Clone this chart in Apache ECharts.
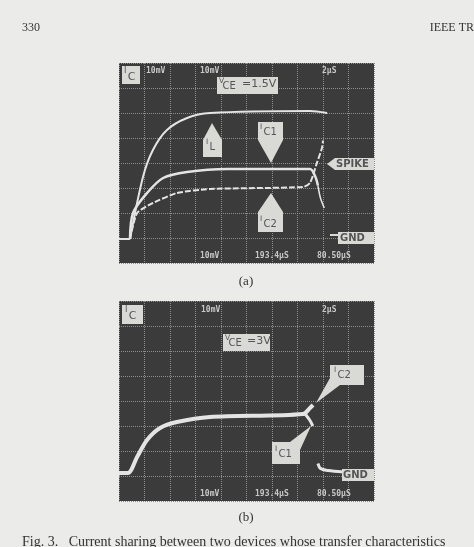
<!DOCTYPE html>
<html><head><meta charset="utf-8">
<script src="https://cdn.jsdelivr.net/npm/echarts@6/dist/echarts.min.js"></script>
<style>html,body{margin:0;padding:0;background:#ebebea;}#c{width:474px;height:547px;}</style>
</head><body><div id="c"></div>
<script>
// Data in screen divisions (x: 0-10, y: 0-8)
const aBaseX = [0, 0.43], aBaseY = [0.96, 0.96];
const aILx = [0.43, 0.94, 1.33, 1.88, 2.67, 3.57, 7.49, 8.16];
const aILy = [0.96, 3.44, 4.52, 5.32, 5.8, 6.0, 6.08, 6.0];
const aC1x = [0.43, 0.55, 1.1, 1.73, 2.67, 4.24, 7.49, 7.7, 7.8];
const aC1y = [0.96, 2.0, 2.8, 3.4, 3.64, 3.76, 3.76, 3.45, 3.1];
const aC2x = [0.43, 0.71, 1.33, 2.27, 3.57, 7.22, 7.49, 7.76, 7.96, 8.0];
const aC2y = [0.96, 2.0, 2.4, 2.8, 2.96, 3.04, 3.2, 4.0, 4.6, 4.9];
const aDx = [7.8, 7.9, 8.05], aDy = [3.1, 2.6, 2.2];
const bX = [0, 0.35, 0.71, 1.1, 1.61, 2.27, 3.57, 7.22, 7.49, 7.61];
const bY = [1.12, 1.12, 1.76, 2.44, 2.92, 3.16, 3.36, 3.48, 3.72, 3.84];
const bDx = [7.3, 7.49, 7.6], bDy = [3.48, 3.22, 3.0];
const bGx = [7.8, 7.9, 8.2, 8.8], bGy = [1.5, 1.3, 1.22, 1.16];
const zip = (xs, ys) => xs.map((x, i) => [x, ys[i]]);

const chart = echarts.init(document.getElementById('c'));
const ax = (gi) => ({gridIndex: gi, type: 'value', min: 0, max: 10, interval: 1,
  axisLine: {show: false}, axisTick: {show: false}, axisLabel: {show: false},
  splitLine: {show: true, lineStyle: {color: '#8d8d8d', type: 'dotted', width: 1}}});
const ay = (gi) => ({gridIndex: gi, type: 'value', min: 0, max: 8, interval: 1,
  axisLine: {show: false}, axisTick: {show: false}, axisLabel: {show: false},
  splitLine: {show: true, lineStyle: {color: '#8d8d8d', type: 'dotted', width: 1}}});
const ln = (gi, data, w, dash, sm) => ({type: 'line', xAxisIndex: gi, yAxisIndex: gi, data, smooth: sm === undefined ? 0.3 : sm,
  symbol: 'none', silent: true, lineStyle: {color: '#e4e4e4', width: w, type: dash || 'solid'}});

const lbl = '#d9d9d6', lt = '#555';
const box = (x, y, w, h) => ({type: 'rect', z: 100, shape: {x, y, width: w, height: h}, style: {fill: lbl}});
const poly = (pts) => ({type: 'polygon', z: 100, shape: {points: pts}, style: {fill: lbl}});
const sub = (x, y, a, b, fs) => ({type: 'group', z: 101, children: [
  {type: 'text', z: 101, x: x, y: y, style: {text: a, fontSize: fs * 0.75, fill: lt, fontFamily: 'DejaVu Sans'}},
  {type: 'text', z: 101, x: x + fs * 0.35, y: y + fs * 0.45, style: {text: b, fontSize: fs, fill: lt, fontFamily: 'DejaVu Sans'}}]});
const txt = (x, y, t, fs, col, ff, align) => ({type: 'text', z: 101, x, y, style: {text: t, fontSize: fs, fill: col,
  fontFamily: ff || 'DejaVu Sans Mono', fontWeight: 'bold', textAlign: align || 'left', textVerticalAlign: 'middle'}});
const scope = '#c8c8c8';
const serif = 'Liberation Serif';

chart.setOption({
  animation: false,
  grid: [
    {left: 119, top: 63, width: 255, height: 200, show: true, backgroundColor: '#3b3b3b', borderWidth: 0},
    {left: 119, top: 301, width: 255, height: 200, show: true, backgroundColor: '#3b3b3b', borderWidth: 0}
  ],
  xAxis: [ax(0), ax(1)], yAxis: [ay(0), ay(1)],
  series: [
    ln(0, zip(aBaseX, aBaseY), 2), ln(0, zip(aILx, aILy), 2), ln(0, zip(aC1x, aC1y), 2.5),
    ln(0, zip(aC2x, aC2y), 2, [6, 2], 0.2), ln(0, zip(aDx, aDy), 1.5),
    ln(1, zip(bX, bY), 4), ln(1, zip(bDx, bDy), 3), ln(1, zip(bGx, bGy), 3)
  ],
  graphic: [
    {type: 'text', x: 22, y: 28, style: {text: '330', fontSize: 12, fill: '#333', fontFamily: serif, textVerticalAlign: 'middle'}},
    {type: 'text', x: 474, y: 28, style: {text: 'IEEE TR', fontSize: 12, fill: '#333', fontFamily: serif, textAlign: 'right', textVerticalAlign: 'middle'}},
    {type: 'text', x: 246, y: 282, style: {text: '(a)', fontSize: 13, fill: '#333', fontFamily: serif, textAlign: 'center', textVerticalAlign: 'middle'}},
    {type: 'text', x: 246, y: 518, style: {text: '(b)', fontSize: 13, fill: '#333', fontFamily: serif, textAlign: 'center', textVerticalAlign: 'middle'}},
    {type: 'text', x: 22, y: 542, style: {text: 'Fig. 3.   Current sharing between two devices whose transfer characteristics', fontSize: 14, fill: '#333', fontFamily: serif, textVerticalAlign: 'middle'}},
    // panel a
    box(122, 66, 18, 18), sub(124, 67, 'I', 'C', 11),
    txt(146, 71, '10mV', 8, scope), txt(200, 71, '10mV', 8, scope), txt(322, 71, '2μS', 8, scope),
    box(217, 77, 61, 17), sub(219, 77, 'V', 'CE', 10), {type: 'text', z: 101, x: 242, y: 84, style: {text: '=1.5V', fontSize: 11, fill: lt, fontFamily: 'DejaVu Sans', textVerticalAlign: 'middle'}},
    poly([[212, 123], [222, 140], [222, 157], [203, 157], [203, 140]]), sub(206, 138, 'I', 'L', 10),
    poly([[258, 122], [283, 122], [283, 140], [271, 163], [258, 140]]), sub(260, 123, 'I', 'C1', 10),
    poly([[271, 193], [283, 212], [283, 232], [258, 232], [258, 212]]), sub(260, 215, 'I', 'C2', 10),
    poly([[327, 164], [335, 158], [374, 158], [374, 170], [335, 170]]), txt(336, 164, 'SPIKE', 10, lt, 'DejaVu Sans', 'left'),
    box(338, 232, 36, 12), {type: 'line', z: 100, shape: {x1: 330, y1: 235, x2: 338, y2: 235}, style: {stroke: lbl, lineWidth: 2}}, txt(340, 238, 'GND', 10, lt, 'DejaVu Sans', 'left'),
    txt(200, 256, '10mV', 8, scope), txt(255, 256, '193.4μS', 8, scope), txt(317, 256, '80.50μS', 8, scope),
    // panel b
    box(122, 305, 21, 19), sub(125, 306, 'I', 'C', 11),
    txt(201, 310, '10mV', 8, scope), txt(322, 310, '2μS', 8, scope),
    box(223, 334, 47, 17), sub(225, 334, 'V', 'CE', 10), {type: 'text', z: 101, x: 247, y: 341, style: {text: '=3V', fontSize: 11, fill: lt, fontFamily: 'DejaVu Sans', textVerticalAlign: 'middle'}},
    poly([[330, 365], [364, 365], [364, 385], [340, 385], [316, 403], [330, 378]]), sub(334, 366, 'I', 'C2', 10),
    poly([[311, 426], [300, 450], [300, 464], [272, 464], [272, 442], [290, 442]]), sub(275, 445, 'I', 'C1', 10),
    box(342, 469, 32, 12), txt(343, 475, 'GND', 10, lt, 'DejaVu Sans', 'left'),
    txt(200, 494, '10mV', 8, scope), txt(255, 494, '193.4μS', 8, scope), txt(317, 494, '80.50μS', 8, scope)
  ]
});
</script></body></html>
